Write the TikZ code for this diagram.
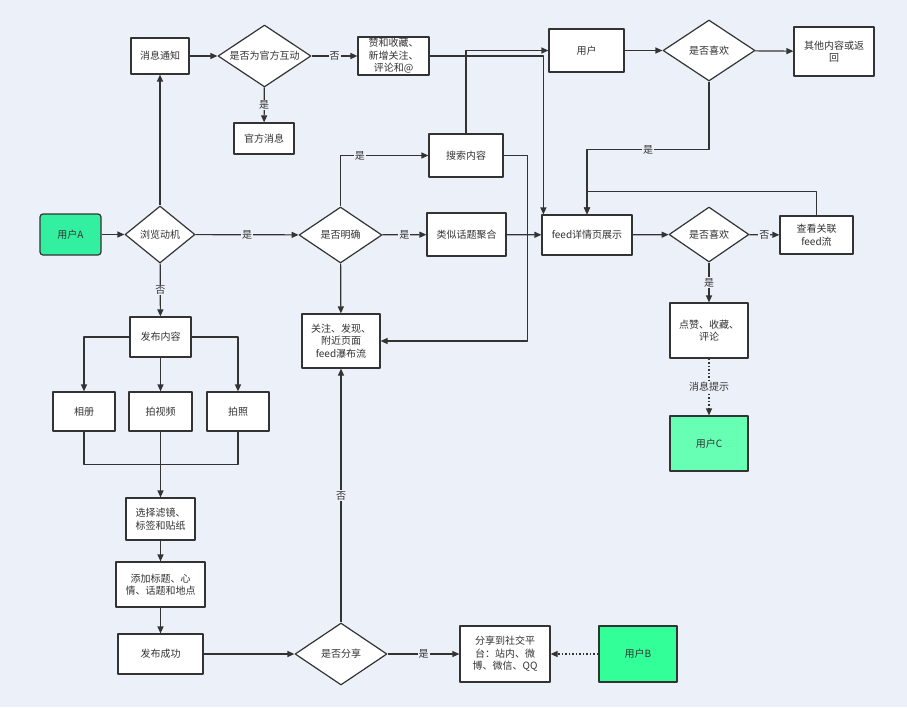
\documentclass[tikz,border=0pt]{standalone}
\usepackage{fontspec}
\setmainfont{Noto Sans CJK SC}
\usetikzlibrary{shapes.geometric,arrows.meta}
\definecolor{bg}{HTML}{ECF1F9}
\definecolor{ink}{HTML}{333333}
\definecolor{greenA}{HTML}{33F0A0}
\definecolor{greenB}{HTML}{33FF99}
\definecolor{greenC}{HTML}{66FFB3}
\begin{document}
\begin{tikzpicture}[x=1pt,y=-1pt,>={Triangle[length=7pt,width=6pt]}, line join=round,
	font=\fontsize{10}{12.5}\selectfont, text=ink,
	box/.style={draw=ink, line width=1.2pt, fill=white, align=center, inner sep=1pt},
	dec/.style={diamond, aspect=1.5, draw=ink, line width=1.2pt, fill=white, inner sep=0pt},
	arr/.style={->, draw=ink, line width=1.2pt},
	lbl/.style={fill=bg, inner sep=1pt}]
		\fill[bg] (0,0) rectangle (907,707); % nền
		% cột trái
		\node (userA) at (70.5,234.5) [box, fill=greenA, rounded corners=3pt, minimum width=61, minimum height=41]{用户A};
		\node (motive) at (160,234.5) [dec, minimum width=70, minimum height=57]{浏览动机};
		\node (notice) at (160,56) [box, minimum width=58, minimum height=36]{消息通知};
		\node (official) at (264.5,56) [dec, minimum width=93, minimum height=62]{是否为官方互动};
		\node (likes) at (393.5,56) [box, minimum width=71, minimum height=38]{赞和收藏、\\新增关注、\\评论和@};
		\node (offmsg) at (264,138.5) [box, minimum width=60, minimum height=31]{官方消息};
		\node (publish) at (160.5,337) [box, minimum width=61, minimum height=40]{发布内容};
		\node (album) at (84,411.5) [box, minimum width=62, minimum height=39]{相册};
		\node (video) at (160.5,411.5) [box, minimum width=63, minimum height=39]{拍视频};
		\node (photo) at (238,411.5) [box, minimum width=62, minimum height=39]{拍照};
		\node (filter) at (160.5,519) [box, minimum width=69, minimum height=42]{选择滤镜、\\标签和贴纸};
		\node (title) at (160.5,584.5) [box, minimum width=89, minimum height=45]{添加标题、心\\情、话题和地点};
		\node (done) at (160.5,654) [box, minimum width=85, minimum height=40]{发布成功};
		% cột giữa
		\node (clear) at (340.5,235) [dec, minimum width=83, minimum height=56]{是否明确};
		\node (search) at (466,155.5) [box, minimum width=74, minimum height=43]{搜索内容};
		\node (similar) at (466.5,234.5) [box, minimum width=79, minimum height=43]{类似话题聚合};
		\node (follow) at (341,341) [box, minimum width=78, minimum height=54]{关注、发现、\\附近页面\\feed瀑布流};
		\node (share) at (341,654) [dec, minimum width=92, minimum height=62]{是否分享};
		\node (social) at (505,654) [box, minimum width=90, minimum height=56]{分享到社交平\\台：站内、微\\博、微信、QQ};
		\node (userB) at (638,654) [box, fill=greenB, minimum width=78, minimum height=56]{用户B};
		% cột phải
		\node (user) at (586.5,50.5) [box, minimum width=75, minimum height=43]{用户};
		\node (likeq1) at (709,50.5) [dec, minimum width=92, minimum height=61]{是否喜欢};
		\node (other) at (834,51.5) [box, minimum width=80, minimum height=49]{其他内容或返\\回};
		\node (feed) at (587,235) [box, minimum width=90, minimum height=40]{feed详情页展示};
		\node (likeq2) at (709,234.5) [dec, minimum width=80, minimum height=55]{是否喜欢};
		\node (related) at (816.5,235) [box, minimum width=73, minimum height=38]{查看关联\\feed流};
		\node (praise) at (709,330.5) [box, minimum width=78, minimum height=55]{点赞、收藏、\\评论};
		\node (userC) at (709,443.5) [box, fill=greenC, minimum width=78, minimum height=55]{用户C};
		% nối
		\draw[arr] (userA) -- (motive);
		\draw[arr] (motive) -- (notice);
		\draw[arr] (notice) -- (official);
		\draw[arr] (official) -- node[lbl]{否} (likes);
		\draw[arr] (official) -- node[lbl]{是} (offmsg);
		\draw[arr] (likes.east) -| ([xshift=2pt]feed.north west);
		\draw[arr] (search.north) |- (user);
		\draw[arr] (search.east) -- ++(24,0) |- (follow.east);
		\draw[arr] (user) -- (likeq1);
		\draw[arr] (likeq1) -- (other);
		\draw[arr] (likeq1.south) -- ++(0,68) -| node[lbl, pos=.25]{是} (feed.north);
		\draw[arr] (related.north) -- ++(0,-24) -| (feed.north);
		\draw[arr] (motive) -- node[lbl]{是} (clear);
		\draw[arr] (clear.north) |- node[lbl, pos=.61]{是} (search);
		\draw[arr] (clear) -- node[lbl]{是} (similar);
		\draw[arr] (similar) -- (feed);
		\draw[arr] (clear) -- (follow);
		\draw[arr] (feed) -- (likeq2);
		\draw[arr] (likeq2) -- node[lbl]{否} (related);
		\draw[arr] (likeq2) -- node[lbl]{是} (praise);
		\draw[arr, dash pattern=on 1.5pt off 2pt] (praise) -- node[lbl]{消息提示} (userC);
		\draw[arr] (motive) -- node[lbl]{否} (publish);
		\draw[arr] (publish.west) -| (album);
		\draw[arr] (publish) -- (video);
		\draw[arr] (publish.east) -| (photo);
		\draw[draw=ink, line width=1.2pt] (album.south) -- ++(0,33) -| (photo.south);
		\draw[arr] (video) -- (filter);
		\draw[arr] (filter) -- (title);
		\draw[arr] (title) -- (done);
		\draw[arr] (done) -- (share);
		\draw[arr] (share) -- node[lbl]{否} (follow);
		\draw[arr] (share) -- node[lbl]{是} (social);
		\draw[arr, dash pattern=on 1.5pt off 2pt] (userB) -- (social);
\end{tikzpicture}
\end{document}
